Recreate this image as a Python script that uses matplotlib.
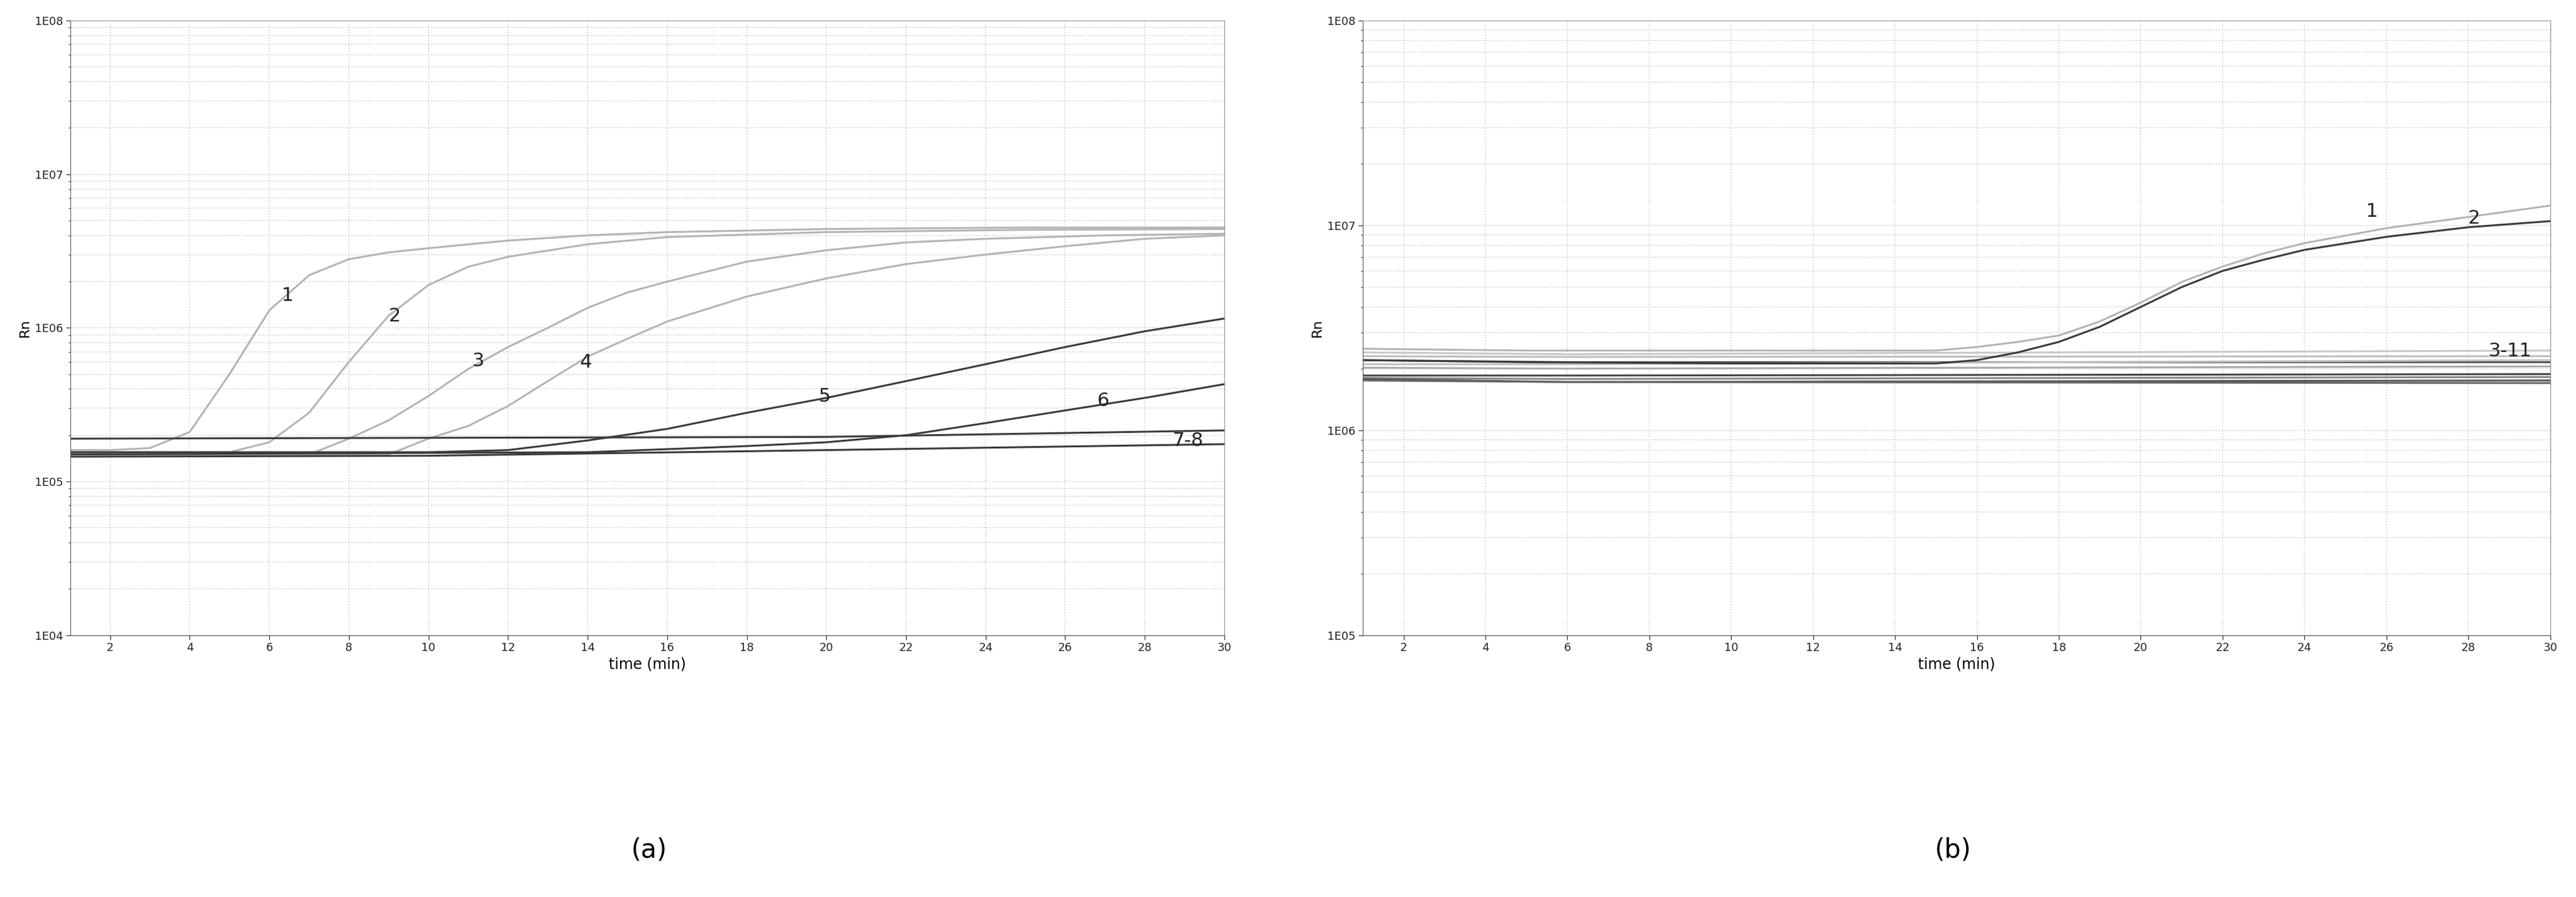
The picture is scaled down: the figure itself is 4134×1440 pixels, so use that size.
import matplotlib.pyplot as plt
from matplotlib.ticker import FixedLocator, LogLocator, NullFormatter

# ---- panel (a) ----
t_a1 = [1, 2, 3, 4, 5, 6, 7, 8, 9, 10, 12, 14, 16, 20, 25, 30]
a1 = [1.6e5, 1.6e5, 1.65e5, 2.1e5, 5e5, 1.3e6, 2.2e6, 2.8e6, 3.1e6, 3.3e6, 3.7e6, 4.0e6, 4.2e6, 4.4e6, 4.5e6, 4.5e6]
t_a2 = [1, 5, 6, 7, 8, 9, 10, 11, 12, 14, 16, 20, 25, 30]
a2 = [1.55e5, 1.55e5, 1.8e5, 2.8e5, 6e5, 1.2e6, 1.9e6, 2.5e6, 2.9e6, 3.5e6, 3.9e6, 4.2e6, 4.35e6, 4.4e6]
t_a3 = [1, 7, 8, 9, 10, 11, 12, 13, 14, 15, 16, 18, 20, 22, 24, 27, 30]
a3 = [1.5e5, 1.5e5, 1.9e5, 2.5e5, 3.6e5, 5.4e5, 7.5e5, 1.0e6, 1.35e6, 1.7e6, 2.0e6, 2.7e6, 3.2e6, 3.6e6, 3.8e6, 4.0e6, 4.1e6]
t_a4 = [1, 9, 10, 11, 12, 13, 14, 15, 16, 18, 20, 22, 24, 26, 28, 30]
a4 = [1.5e5, 1.5e5, 1.9e5, 2.3e5, 3.1e5, 4.5e5, 6.5e5, 8.5e5, 1.1e6, 1.6e6, 2.1e6, 2.6e6, 3.0e6, 3.4e6, 3.8e6, 4.0e6]
t_a5 = [1, 10, 12, 14, 16, 18, 20, 22, 24, 26, 28, 30]
a5 = [1.55e5, 1.55e5, 1.6e5, 1.85e5, 2.2e5, 2.8e5, 3.5e5, 4.5e5, 5.8e5, 7.5e5, 9.5e5, 1.15e6]
t_a6 = [1, 14, 18, 20, 22, 24, 26, 28, 30]
a6 = [1.5e5, 1.55e5, 1.7e5, 1.8e5, 2.0e5, 2.4e5, 2.9e5, 3.5e5, 4.3e5]
t_a7 = [1, 20, 30]
a7 = [1.9e5, 1.95e5, 2.15e5]
t_a8 = [1, 10, 20, 30]
a8 = [1.45e5, 1.47e5, 1.6e5, 1.75e5]

labels_a = ["1", "2", "3", "4", "5", "6", "7-8"]
label_pos_a = [(6.3, 1.5e6), (9.0, 1.1e6), (11.1, 5.6e5), (13.8, 5.5e5), (19.8, 3.3e5), (26.8, 3.1e5), (28.7, 1.7e5)]

# ---- panel (b) ----
t_b1 = [1, 5, 10, 15, 16, 17, 18, 19, 20, 21, 22, 23, 24, 26, 28, 30]
b1 = [2.5e6, 2.45e6, 2.45e6, 2.45e6, 2.55e6, 2.7e6, 2.9e6, 3.4e6, 4.2e6, 5.3e6, 6.3e6, 7.3e6, 8.2e6, 9.7e6, 1.1e7, 1.25e7]
t_b2 = [1, 5, 10, 15, 16, 17, 18, 19, 20, 21, 22, 23, 24, 26, 28, 30]
b2 = [2.2e6, 2.15e6, 2.12e6, 2.12e6, 2.2e6, 2.4e6, 2.7e6, 3.2e6, 4.0e6, 5.0e6, 6.0e6, 6.8e6, 7.6e6, 8.8e6, 9.8e6, 1.05e7]
t_base = [1, 6, 30]
b_base = [
    [2.4e6, 2.35e6, 2.45e6],
    [2.3e6, 2.28e6, 2.3e6],
    [2.2e6, 2.15e6, 2.15e6],
    [2.1e6, 2.1e6, 2.2e6],
    [2.02e6, 2.0e6, 2.05e6],
    [1.85e6, 1.85e6, 1.88e6],
    [1.8e6, 1.78e6, 1.82e6],
    [1.78e6, 1.72e6, 1.75e6],
    [1.75e6, 1.72e6, 1.7e6],
]
base_colors = ["#c8c8c8", "#bdbdbd", "#555555", "#c0c0c0", "#aaaaaa", "#444444", "#888888", "#555555", "#666666"]
labels_b = ["1", "2", "3-11"]
label_pos_b = [(25.5, 1.1e7), (28.0, 1.02e7), (28.5, 2.3e6)]

LIGHT = "#b4b4b4"
DARK = "#3a3a3a"

fig = plt.figure(figsize=(41.34, 14.4), dpi=100)
ax1 = fig.add_axes([0.0273, 0.292, 0.448, 0.685])
ax2 = fig.add_axes([0.529, 0.292, 0.461, 0.685])


def style_axis(ax, ylo, yhi, ticks):
    ax.set_yscale('log')
    ax.set_xlim(1, 30)
    ax.set_ylim(ylo, yhi)
    ax.set_xticks(range(2, 31, 2))
    ax.yaxis.set_major_locator(FixedLocator(ticks))
    ax.set_yticklabels(["1E0%d" % len(str(int(v))[1:]) for v in ticks])
    ax.yaxis.set_minor_locator(LogLocator(base=10, subs=range(2, 10)))
    ax.yaxis.set_minor_formatter(NullFormatter())
    ax.grid(True, which='both', axis='y', color='#cccccc', linestyle=':', linewidth=1.2)
    ax.grid(True, which='major', axis='x', color='#cccccc', linestyle=':', linewidth=1.2)
    ax.tick_params(labelsize=13, colors='#222222', length=5)
    for s in ax.spines.values():
        s.set_color('#999999')
    ax.spines['left'].set_color('#555555')
    ax.spines['bottom'].set_color('#555555')
    ax.set_ylabel('Rn', fontsize=16)
    ax.set_xlabel('time (min)', fontsize=17)


style_axis(ax1, 1e4, 1e8, [1e4, 1e5, 1e6, 1e7, 1e8])
for t, v, c in [(t_a1, a1, LIGHT), (t_a2, a2, LIGHT), (t_a3, a3, LIGHT), (t_a4, a4, LIGHT),
                (t_a5, a5, DARK), (t_a6, a6, DARK), (t_a7, a7, DARK), (t_a8, a8, DARK)]:
    ax1.plot(t, v, color=c, linewidth=2.2)
for lab, (x, y) in zip(labels_a, label_pos_a):
    ax1.text(x, y, lab, fontsize=22, color='#222222')

style_axis(ax2, 1e5, 1e8, [1e5, 1e6, 1e7, 1e8])
for v, c in zip(b_base, base_colors):
    ax2.plot(t_base, v, color=c, linewidth=2.2)
ax2.plot(t_b1, b1, color=LIGHT, linewidth=2.2)
ax2.plot(t_b2, b2, color=DARK, linewidth=2.2)
for lab, (x, y) in zip(labels_b, label_pos_b):
    ax2.text(x, y, lab, fontsize=22, color='#222222')

fig.text(0.252, 0.044, '(a)', fontsize=30, ha='center')
fig.text(0.758, 0.044, '(b)', fontsize=30, ha='center')

fig.savefig('out.png', dpi=100, facecolor='white')
